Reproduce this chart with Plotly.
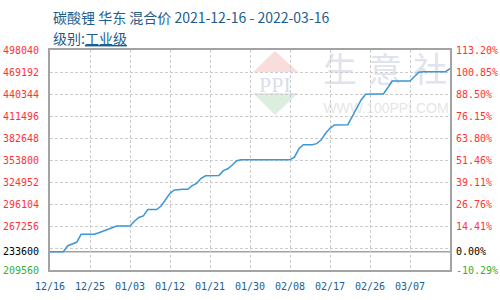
import pandas as pd
import plotly.graph_objects as go

# ---------------- data ----------------
start_date = "2021-12-16"
end_date = "2022-03-16"
prices = [
    233600, 233600, 233600, 233600, 241400, 243300, 245900, 256400, 256400, 256400,
    256400, 258500, 260700, 262900, 265500, 267200, 267200, 267200, 267200, 273500,
    278500, 280500, 288900, 288900, 288900, 293500, 301300, 310100, 314500, 315400,
    315400, 315400, 320100, 323200, 329800, 333000, 333400, 333400, 333400, 339800,
    342300, 347200, 352800, 354200, 354200, 354200, 354200, 354200, 354200, 354200,
    354200, 354200, 354200, 354200, 354200, 357500, 368500, 373800, 373800, 373800,
    375200, 379900, 388800, 395400, 399700, 399700, 399700, 400100, 410600, 421600,
    432500, 440000, 440500, 440500, 440500, 440500, 448600, 457400, 457400, 457400,
    457400, 457400, 463200, 468900, 469600, 469600, 469600, 469600, 469600, 469600,
    473500,
]
left_ticks = [209560, 233600, 267256, 296104, 324952, 353800, 382648, 411496, 440344, 469192, 498040]
right_ticks = ["-10.29%", "0.00%", "14.41%", "26.76%", "39.11%", "51.46%", "63.80%", "76.15%", "88.50%", "100.85%", "113.20%"]
x_tick_labels = ["12/16", "12/25", "01/03", "01/12", "01/21", "01/30", "02/08", "02/17", "02/26", "03/07"]
title_line1 = "碳酸锂 华东 混合价 2021-12-16 - 2022-03-16"
title_line2_a = "级别:"
title_line2_b = "工业级"

dates = pd.date_range(start_date, periods=len(prices), freq="D")
base = prices[0]
y_min, y_max = left_ticks[0], left_ticks[-1]
grid_step = left_ticks[3] - left_ticks[2]
grid_vals = []
g = y_max
while g > base:
    grid_vals.append(g)
    g -= grid_step
x_tick_vals = pd.date_range(start_date, periods=len(x_tick_labels), freq="9D")

RED = "#ff3333"
GREEN = "#33b033"
BLACK = "#000000"
BLUE_TXT = "#1d5e8d"
AXIS = "#a3a3a3"
GRID = "#cccccc"


def colour(i):
    if i == 0:
        return GREEN
    if i == 1:
        return BLACK
    return RED


left_text = [f'<span style="color:{colour(i)}">{v}</span>' for i, v in enumerate(left_ticks)]
right_text = [f'<span style="color:{colour(i)}">{t}</span>' for i, t in enumerate(right_ticks)]

fig = go.Figure()
fig.add_trace(go.Scatter(x=dates, y=prices, mode="lines",
                         line=dict(color="#3b97d6", width=1.5),
                         hoverinfo="skip", showlegend=False, yaxis="y"))
fig.add_trace(go.Scatter(x=dates, y=prices, mode="lines", line=dict(width=0),
                         opacity=0, hoverinfo="skip", showlegend=False, yaxis="y2"))
fig.add_trace(go.Scatter(x=dates, y=prices, mode="lines", line=dict(width=0),
                         opacity=0, hoverinfo="skip", showlegend=False, yaxis="y3"))

tick_font = dict(family="DejaVu Sans Mono", size=10, color=RED)

fig.update_layout(
    width=500, height=300,
    margin=dict(l=50, r=50, t=50, b=30, autoexpand=False),
    paper_bgcolor="white", plot_bgcolor="white",
    showlegend=False,
    xaxis=dict(
        type="date", range=[dates[0], dates[-1]],
        tickvals=x_tick_vals, ticktext=x_tick_labels,
        showgrid=True, gridcolor=GRID, griddash="3px,2px", gridwidth=1,
        showline=True, linecolor=AXIS, linewidth=2, mirror=True,
        ticks="outside", ticklen=6, tickcolor="rgba(0,0,0,0)",
        tickfont=dict(family="DejaVu Sans Mono", size=10, color=BLUE_TXT),
        zeroline=False,
    ),
    yaxis=dict(
        range=[y_min, y_max], tickvals=grid_vals, showticklabels=False,
        showgrid=True, gridcolor=GRID, griddash="3px,2px", gridwidth=1,
        showline=True, linecolor=AXIS, linewidth=2, mirror=True,
        ticks="", zeroline=False,
    ),
    yaxis3=dict(
        range=[y_min, y_max], overlaying="y", side="left",
        tickvals=left_ticks, ticktext=left_text, showgrid=False,
        ticks="outside", ticklen=8, tickcolor="rgba(0,0,0,0)",
        tickfont=tick_font, showline=False, zeroline=False,
    ),
    yaxis2=dict(
        range=[y_min, y_max], overlaying="y", side="right",
        tickvals=left_ticks, ticktext=right_text, showgrid=False,
        ticks="outside", ticklen=3, tickcolor="rgba(0,0,0,0)",
        tickfont=tick_font, showline=False, zeroline=False,
    ),
)

# baseline at the first (reference) price
fig.add_shape(type="line", xref="paper", x0=0, x1=1, yref="y", y0=base, y1=base,
              line=dict(color=AXIS, width=1.5), layer="between")


def px(xp):
    return (xp - 50) / 400


def py(yp):
    return (270 - yp) / 220


# watermark (logo + text) below grid
fig.add_shape(type="path", xref="paper", yref="paper", layer="below",
              path=f"M {px(275)} {py(51)} L {px(298)} {py(72)} L {px(253)} {py(72)} Z",
              fillcolor="#f9dcdc", line=dict(width=0))
fig.add_shape(type="path", xref="paper", yref="paper", layer="below",
              path=f"M {px(253)} {py(93)} L {px(298)} {py(93)} L {px(275)} {py(115)} Z",
              fillcolor="#dcefdf", line=dict(width=0))
wm = [
    ("PPI", 275, 82, 22, "#d9deea", "Liberation Serif"),
    ("生", 340, 72, 34, "#dfe3ee", "Noto Sans CJK SC"),
    ("意", 385, 72, 34, "#dfe3ee", "Noto Sans CJK SC"),
    ("社", 430, 72, 34, "#dfe3ee", "Noto Sans CJK SC"),
    ("WWW.100PPI.COM", 386, 107, 14, "#e6e6e6", "Liberation Sans"),
]
for txt, cx, cy, size, col, fam in wm:
    fig.add_shape(type="rect", xref="paper", yref="paper", layer="below",
                  x0=px(cx - 60), x1=px(cx + 60), y0=py(cy + 20), y1=py(cy - 20),
                  line=dict(width=0), fillcolor="rgba(0,0,0,0)",
                  label=dict(text=txt, font=dict(size=size, color=col, family=fam),
                             textposition="middle center"))

# title
fig.add_annotation(xref="paper", yref="paper", x=px(51), y=py(17), xanchor="left", yanchor="middle",
                   text=title_line1, showarrow=False,
                   font=dict(family="Noto Sans CJK SC", size=14, color=BLUE_TXT))
fig.add_annotation(xref="paper", yref="paper", x=px(51), y=py(38), xanchor="left", yanchor="middle",
                   text=f'{title_line2_a}<span style="text-decoration:underline">{title_line2_b}</span>',
                   showarrow=False,
                   font=dict(family="Noto Sans CJK SC", size=14, color=BLUE_TXT))

fig.write_html("out.html")
